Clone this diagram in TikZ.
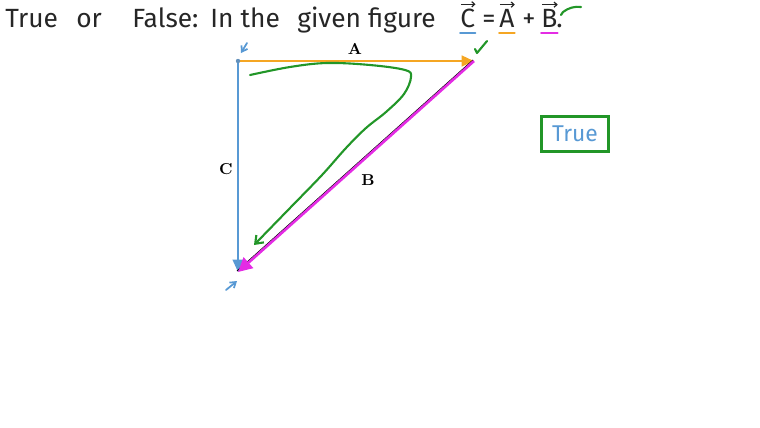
\documentclass[tikz,border=0pt]{standalone}
\usepackage{fontspec}
\newfontfamily\handfont{Fira Sans}
\usetikzlibrary{positioning}
\usetikzlibrary{arrows.meta}
\definecolor{vorange}{RGB}{245,166,35}
\definecolor{vblue}{RGB}{88,153,212}
\definecolor{vmagenta}{RGB}{228,44,228}
\definecolor{vgreen}{RGB}{34,150,40}
\tikzset{
    titleword/.style = {anchor=base west, inner sep=0pt, font=\handfont\fontsize{15}{18}\selectfont, text=black!85},
    veclabel/.style = {font=\bfseries\small, text=black},
    answerbox/.style = {draw=vgreen, line width=1.3pt, minimum width=1.34cm, minimum height=0.7cm, font=\handfont\fontsize{13}{16}\selectfont, text=vblue},
    edgeo/.style = {-{Triangle[length=7pt,width=6pt]}, line width=1.5pt, vorange},
    edgeb/.style = {-{Triangle[length=7pt,width=6pt]}, line width=1.1pt, vblue},
    edgem/.style = {-{Triangle[length=8pt,width=8pt]}, line width=1.5pt, vmagenta},
    edgek/.style = {-, line width=0.5pt, black},
    edgeg/.style = {-{Straight Barb[length=4pt,width=6pt]}, line width=1.2pt, vgreen, line cap=round, line join=round},
    tickg/.style = {-, line width=1.2pt, vgreen, line cap=round, line join=round},
    tickb/.style = {-{Straight Barb[length=3pt,width=4pt]}, line width=1pt, vblue, line cap=round},
    vecarrow/.style = {-{Straight Barb[length=1.6pt,width=3pt]}, line width=0.7pt, black!85},
    ulb/.style = {line width=1pt, line cap=round}
}

\begin{document}
\begin{tikzpicture}[x=0.02cm, y=-0.02cm]
  \useasboundingbox (0,0) rectangle (760,427);

  % title
  \node[titleword] (w1) at (5,27) {True};
  \node[titleword] (w2) at (76,27) {or};
  \node[titleword] (w3) at (132,27) {False:};
  \node[titleword] (w4) at (210,27) {In the};
  \node[titleword] (w5) at (297,27) {given figure};
  \node[titleword] (vc) at (460,27) {C};
  \node[titleword] (eq) at (482,27) {=};
  \node[titleword] (va) at (499,27) {A};
  \node[titleword] (pl) at (522,27) {+};
  \node[titleword] (vb) at (541,27) {B};
  \node[titleword] (dt) at (556,27) {.};
  \foreach \v in {vc,va,vb}
    \draw[vecarrow] ([yshift=2.2pt, xshift=0.5pt]\v.north west) -- ([yshift=2.2pt]\v.north east);
  \draw[ulb, vblue] ([yshift=-3.5pt]vc.base west) -- ([yshift=-3.5pt]vc.base east);
  \draw[ulb, vorange] ([yshift=-3.5pt]va.base west) -- ([yshift=-3.5pt]va.base east);
  \draw[ulb, vmagenta] ([yshift=-3.5pt]vb.base west) -- ([yshift=-3.5pt]vb.base east);
  \draw[tickg] (561,15) -- (563,12) .. controls (568,8) and (575,6) .. (581,7);

  % triangle of vectors
  \coordinate (p) at (238,61);
  \coordinate (q) at (474,61);
  \coordinate (r) at (238,272);
  \draw[edgeo] (p) -- (q);
  \draw[edgeb] (p) -- (r);
  \draw[edgek] ([shift={(-1,-1)}]q) -- ([shift={(-1,-1)}]r);
  \draw[edgem] (q) -- (r);
  \fill[vblue!70!gray] (p) circle (2.2);

  \node[veclabel] (la) at (355,49) {A};
  \node[veclabel] (lc) at (226,169) {C};
  \node[veclabel] (lb) at (368,180) {B};

  % marks
  \coordinate (m1) at (247,43);
  \coordinate (m2) at (241,53);
  \draw[tickb] (m1) -- (m2);
  \coordinate (m3) at (226,290);
  \coordinate (m4) at (237,281);
  \draw[tickb] (m3) -- (m4);
  \draw[tickg] (475,49) -- (477,53) -- (487,41);

  \draw[edgeg] plot[smooth, tension=0.6] coordinates {(250,75) (290,67) (327,63) (370,65) (405,70) (411,77) (404,94) (386,112) (366,128) (346,148) (322,175) (290,208) (254,245)};

  % answer
  \node[answerbox] (ans) at (575,134) {True};
\end{tikzpicture}
\end{document}
